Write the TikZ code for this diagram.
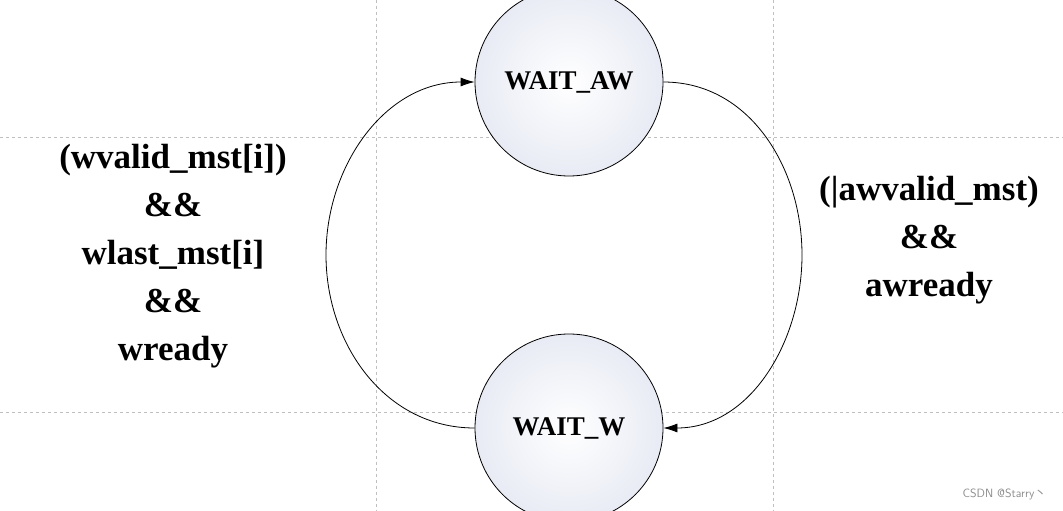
\documentclass[tikz,border=0pt]{standalone}
\usepackage{fontspec}
\setmainfont{Liberation Serif}
\newfontfamily\cjk{Noto Sans CJK SC}
\usetikzlibrary{arrows.meta}
\begin{document}
\begin{tikzpicture}[x=1pt,y=-1pt,
  grid/.style={draw=black!25,dashed,line width=0.7pt},
  st/.style={circle,draw,line width=0.8pt,minimum size=188pt,inner sep=0pt,font=\bfseries\fontsize{27}{30}\selectfont,top color=white,bottom color=white,shading=radial,inner color=white,outer color={rgb,255:red,232;green,235;blue,244}},
  lbl/.style={align=center,font=\bfseries\fontsize{35}{48}\selectfont},
  conn/.style={draw,line width=0.8pt,-{Latex[length=14pt,width=9pt]}}]
\useasboundingbox (0,0) rectangle (1063,511);
\draw[grid] (376,0) -- (376,511);
\draw[grid] (773,0) -- (773,511);
\draw[grid] (0,137) -- (1063,137);
\draw[grid] (0,412) -- (1063,412);
\node[st] (t) at (569,82) {WAIT\_AW};
\node[st] (b) at (569,428) {WAIT\_W};
\coordinate (l) at (326,255);
\coordinate (r) at (802,255);
\draw[conn] (b.west) to[out=180,in=270] (l) to[out=90,in=180] (t.west);
\draw[conn] (t.east) to[out=0,in=90] (r) to[out=270,in=0] (b.east);
\node[lbl] (lt) at (173,256) {(wvalid\_mst[i])\\\&\&\\wlast\_mst[i]\\\&\&\\wready};
\node[lbl] (rt) at (929,240) {(|awvalid\_mst)\\\&\&\\awready};
\node[font=\sffamily\fontsize{12}{14}\selectfont,text=black!45,anchor=east] (wm) at (1050,494) {CSDN @Starry{\cjk 丶}};
\end{tikzpicture}
\end{document}
